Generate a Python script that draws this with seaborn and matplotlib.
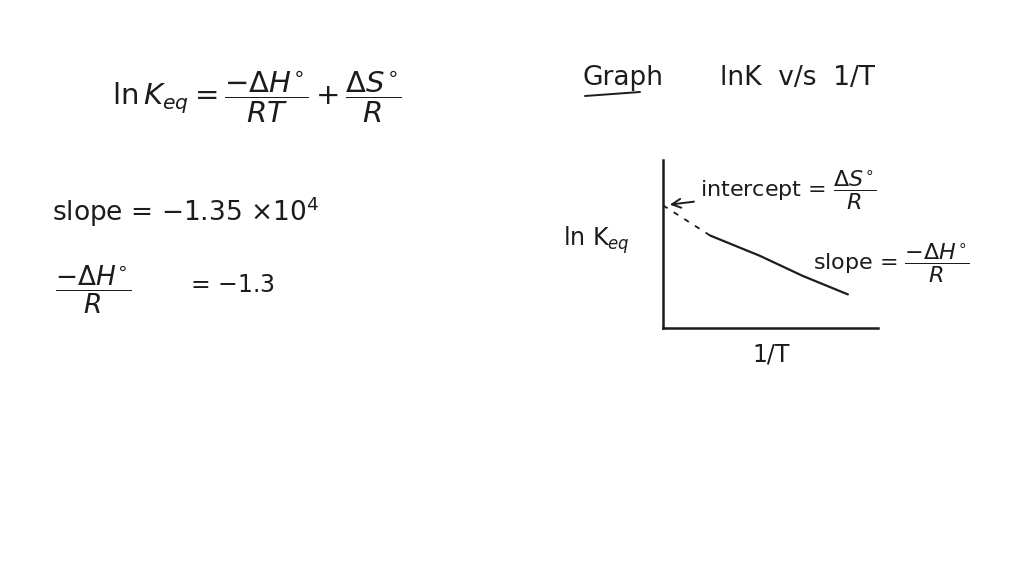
import matplotlib
matplotlib.use("Agg")
import matplotlib.pyplot as plt
import seaborn as sns
import pandas as pd

sns.set_theme(style="white")
plt.rcParams['font.family'] = ['DejaVu Sans']
plt.rcParams['mathtext.fontset'] = 'dejavusans'

# Data (schematic ln Keq vs 1/T)
line_x = [0.22, 0.45, 0.65, 0.86]
line_y = [0.55, 0.43, 0.31, 0.20]
dash_x = [0.0, 0.22]
dash_y = [0.73, 0.55]

INK = "#1c1c1c"
W, H = 1024, 576

fig = plt.figure(figsize=(10.24, 5.76), dpi=100)
fig.patch.set_facecolor("white")

def P(x, y):
    return x / W, 1 - y / H

# axes box for graph: left 663, right 878, top 160, bottom 328
l, b = P(663, 328)
r, t = P(878, 160)
ax = fig.add_axes([l, b, r - l, t - b])
ax.set_facecolor("white")

solid = pd.DataFrame({"x": line_x, "y": line_y})
dashed = pd.DataFrame({"x": dash_x, "y": dash_y})
sns.lineplot(data=solid, x="x", y="y", ax=ax, color=INK, linewidth=1.6)
sns.lineplot(data=dashed, x="x", y="y", ax=ax, color=INK, linewidth=1.3,
             linestyle=(0, (3, 4)))
ax.set_xlim(0, 1)
ax.set_ylim(0, 1)
ax.set_xticks([])
ax.set_yticks([])
ax.set_xlabel("")
ax.set_ylabel("")
for s in ["top", "right"]:
    ax.spines[s].set_visible(False)
for s in ["left", "bottom"]:
    ax.spines[s].set_color(INK)
    ax.spines[s].set_linewidth(1.8)

# Texts
fs = 19
fig.text(*P(112, 97), r"$\ln K_{eq} = \dfrac{-\Delta H^{\circ}}{RT} + \dfrac{\Delta S^{\circ}}{R}$",
         fontsize=21, color=INK, va="center", ha="left")

fig.text(*P(583, 78), "Graph", fontsize=fs, color=INK, va="center", ha="left")
fig.add_artist(plt.Line2D([P(585, 0)[0], P(640, 0)[0]], [P(0, 96)[1], P(0, 92)[1]],
                          color=INK, linewidth=1.4))
fig.text(*P(720, 78), "lnK  v/s  1/T", fontsize=fs, color=INK, va="center", ha="left")

fig.text(*P(52, 212), r"slope = $-$1.35 ×10$^{4}$", fontsize=fs, color=INK,
         va="center", ha="left")
fig.text(*P(55, 290), r"$\dfrac{-\Delta H^{\circ}}{R}$", fontsize=19, color=INK,
         va="center", ha="left")
fig.text(*P(190, 285), r"= $-$1.3", fontsize=17, color=INK, va="center", ha="left")

fig.text(*P(563, 240), r"ln K$_{eq}$", fontsize=17, color=INK, va="center", ha="left")
fig.text(*P(752, 355), "1/T", fontsize=17, color=INK, va="center", ha="left")

ax.annotate(r"intercept = $\dfrac{\Delta S^{\circ}}{R}$",
            xy=P(667, 205), xycoords="figure fraction",
            xytext=P(700, 190), textcoords="figure fraction",
            fontsize=16, color=INK, va="center", ha="left",
            arrowprops=dict(arrowstyle="->", color=INK, lw=1.4))
fig.text(*P(813, 263), r"slope = $\dfrac{-\Delta H^{\circ}}{R}$", fontsize=16, color=INK,
         va="center", ha="left")

fig.savefig("out.png", dpi=100, facecolor="white")
